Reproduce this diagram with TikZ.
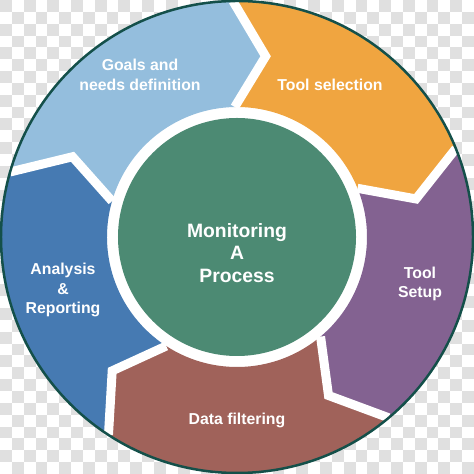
\documentclass[tikz,border=0pt]{standalone}
\usepackage{fontspec}
\setmainfont{Liberation Sans}
\usepackage{tikz}
\usetikzlibrary{calc}
\usetikzlibrary{positioning}
\definecolor{checker-gray}{gray}{0.88}
\definecolor{goals-blue}{HTML}{94BEDD}
\definecolor{tool-orange}{HTML}{F0A540}
\definecolor{setup-purple}{HTML}{836291}
\definecolor{filter-brown}{HTML}{A0625A}
\definecolor{analysis-blue}{HTML}{467AB2}
\definecolor{center-green}{HTML}{4C8A73}
\definecolor{rim-teal}{HTML}{14504A}

\begin{document}
\begin{tikzpicture}
  [
    label/.style = {text=white, font=\bfseries\fontsize{9}{11}\selectfont, align=center},
    title/.style = {text=white, font=\bfseries\fontsize{11}{13}\selectfont, align=center},
    gap/.style   = {draw=white, line width=0.18cm, line join=miter}
  ]
\useasboundingbox (-4.74, -4.74) rectangle (4.74, 4.74);
% Checker background
\foreach \i in {0,...,39}
  \foreach \j in {0,...,39}
  {
    \pgfmathparse{int(mod(\i+\j,2))}
    \ifnum\pgfmathresult=0
      \fill[checker-gray] ($ (-4.74, 4.74) + (0.237*\i, -0.237*\j) $) rectangle ++(0.237, -0.237);
    \fi
  }

% ---------------------------------------------------
% Radii: rim, chevron tip, inner edge, hub
\def\rout{4.72}
\def\rtip{3.66}
\def\rin{2.6}
\def\rhub{2.38}
\fill[white] (0, 0) circle (\rout);

% Segments (clockwise, tip 10 deg ahead of the ends)
\fill[goals-blue] (164:\rout) arc[start angle=164, end angle=91, radius=\rout]
  -- (81:\rtip) -- (91:\rin) arc[start angle=91, end angle=164, radius=\rin]
  -- (154:\rtip) -- cycle;
\fill[tool-orange] (91:\rout) arc[start angle=91, end angle=22, radius=\rout]
  -- (12:\rtip) -- (22:\rin) arc[start angle=22, end angle=91, radius=\rin]
  -- (81:\rtip) -- cycle;
\fill[setup-purple] (22:\rout) arc[start angle=22, end angle=-50, radius=\rout]
  -- (-60:\rtip) -- (-50:\rin) arc[start angle=-50, end angle=22, radius=\rin]
  -- (12:\rtip) -- cycle;
\fill[filter-brown] (-50:\rout) arc[start angle=-50, end angle=-123, radius=\rout]
  -- (-133:\rtip) -- (-123:\rin) arc[start angle=-123, end angle=-50, radius=\rin]
  -- (-60:\rtip) -- cycle;
\fill[analysis-blue] (-123:\rout) arc[start angle=-123, end angle=-196, radius=\rout]
  -- (-206:\rtip) -- (-196:\rin) arc[start angle=-196, end angle=-123, radius=\rin]
  -- (-133:\rtip) -- cycle;

% White chevron gaps
\draw[gap] (91:\rout) -- (81:\rtip) -- (91:\rin);
\draw[gap] (22:\rout) -- (12:\rtip) -- (22:\rin);
\draw[gap] (-50:\rout) -- (-60:\rtip) -- (-50:\rin);
\draw[gap] (-123:\rout) -- (-133:\rtip) -- (-123:\rin);
\draw[gap] (164:\rout) -- (154:\rtip) -- (164:\rin);

% Hub and rim
\fill[center-green] (0, 0) circle (\rhub);
\draw[rim-teal, line width=0.05cm] (0, 0) circle (\rout);

% Labels
\node[title] (hub)      at (0, -0.32)     {Monitoring\\A\\Process};
\node[label] (goals)    at (-1.94, 3.24)  {Goals and\\needs definition};
\node[label] (select)   at (1.86, 3.04)   {Tool selection};
\node[label] (setup)    at (3.66, -0.94)  {Tool\\Setup};
\node[label] (filter)   at (0, -3.66)     {Data filtering};
\node[label] (analysis) at (-3.48, -1.06) {Analysis\\\&\\Reporting};
% ---------------------------------------------------
\end{tikzpicture}
\end{document}
